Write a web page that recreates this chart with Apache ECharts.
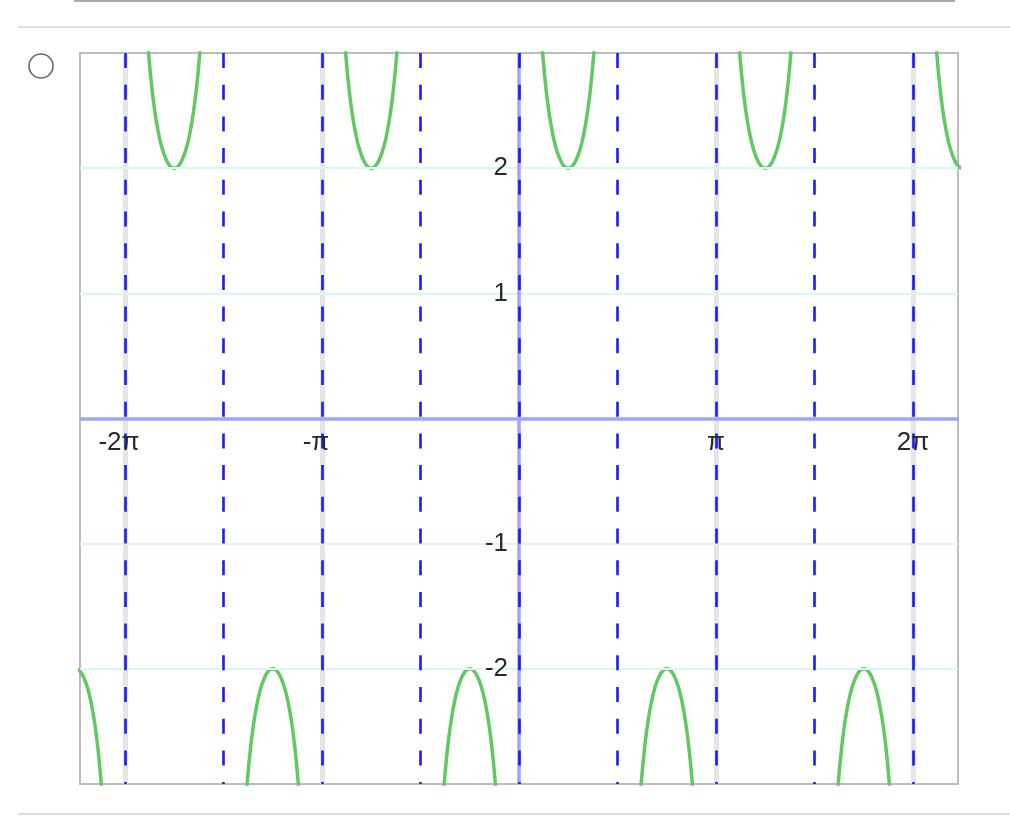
<!DOCTYPE html>
<html>
<head>
<meta charset="utf-8">
<script src="https://cdn.jsdelivr.net/npm/echarts@6/dist/echarts.min.js"></script>
<style>
  html, body { margin: 0; padding: 0; background: #fff; }
  #chart { width: 1010px; height: 830px; }
</style>
</head>
<body>
<div id="chart"></div>
<script>
// ---- data (y = 2·csc(2x)) ----
const xRange = [-7, 7];
const yRange = [-2.92, 2.92];
const xTickValues = [-6.2832, -3.1416, 3.1416, 6.2832];
const xTickLabels = ['-2π', '-π', 'π', '2π'];
const yTickValues = [-2, -1, 1, 2];
const yTickLabels = ['-2', '-1', '1', '2'];
const asymptoteX = [-6.2832, -4.7124, -3.1416, -1.5708, 0, 1.5708, 3.1416, 4.7124, 6.2832];
const gridX = [-6.2832, -3.1416, 3.1416, 6.2832];
const gridY = [-2, -1, 1, 2];

const branch0 = [[-7.169,-2.041],[-7.069,-2],[-6.969,-2.041],[-6.869,-2.171],[-6.789,-2.361],[-6.719,-2.615],[-6.659,-2.932],[-6.599,-3.392]];
const branch1 = [[-5.968,3.392],[-5.908,2.932],[-5.848,2.615],[-5.778,2.361],[-5.698,2.171],[-5.598,2.041],[-5.498,2],[-5.398,2.041],[-5.298,2.171],[-5.218,2.361],[-5.148,2.615],[-5.088,2.932],[-5.028,3.392]];
const branch2 = [[-4.397,-3.392],[-4.337,-2.932],[-4.277,-2.615],[-4.207,-2.361],[-4.127,-2.171],[-4.027,-2.041],[-3.927,-2],[-3.827,-2.041],[-3.727,-2.171],[-3.647,-2.361],[-3.577,-2.615],[-3.517,-2.932],[-3.457,-3.392]];
const branch3 = [[-2.826,3.392],[-2.766,2.932],[-2.706,2.615],[-2.636,2.361],[-2.556,2.171],[-2.456,2.041],[-2.356,2],[-2.256,2.041],[-2.156,2.171],[-2.076,2.361],[-2.006,2.615],[-1.946,2.932],[-1.886,3.392]];
const branch4 = [[-1.255,-3.392],[-1.195,-2.932],[-1.135,-2.615],[-1.065,-2.361],[-0.985,-2.171],[-0.885,-2.041],[-0.785,-2],[-0.685,-2.041],[-0.585,-2.171],[-0.505,-2.361],[-0.435,-2.615],[-0.375,-2.932],[-0.315,-3.392]];
const branch5 = [[0.315,3.392],[0.375,2.932],[0.435,2.615],[0.505,2.361],[0.585,2.171],[0.685,2.041],[0.785,2],[0.885,2.041],[0.985,2.171],[1.065,2.361],[1.135,2.615],[1.195,2.932],[1.255,3.392]];
const branch6 = [[1.886,-3.392],[1.946,-2.932],[2.006,-2.615],[2.076,-2.361],[2.156,-2.171],[2.256,-2.041],[2.356,-2],[2.456,-2.041],[2.556,-2.171],[2.636,-2.361],[2.706,-2.615],[2.766,-2.932],[2.826,-3.392]];
const branch7 = [[3.457,3.392],[3.517,2.932],[3.577,2.615],[3.647,2.361],[3.727,2.171],[3.827,2.041],[3.927,2],[4.027,2.041],[4.127,2.171],[4.207,2.361],[4.277,2.615],[4.337,2.932],[4.397,3.392]];
const branch8 = [[5.028,-3.392],[5.088,-2.932],[5.148,-2.615],[5.218,-2.361],[5.298,-2.171],[5.398,-2.041],[5.498,-2],[5.598,-2.041],[5.698,-2.171],[5.778,-2.361],[5.848,-2.615],[5.908,-2.932],[5.968,-3.392]];
const branch9 = [[6.599,3.392],[6.659,2.932],[6.719,2.615],[6.789,2.361],[6.869,2.171],[6.969,2.041],[7.069,2],[7.169,2.041]];
const branches = [branch0, branch1, branch2, branch3, branch4, branch5, branch6, branch7, branch8, branch9];

// ---- layout ----
const GRID = { left: 80, right: 52, top: 53, bottom: 46 };
const W = 1010, H = 830;
const plotW = W - GRID.left - GRID.right;
const plotH = H - GRID.top - GRID.bottom;
// put the axis labels through the origin (both ranges are symmetric)
const xAxisOffset = -plotH * (0 - yRange[0]) / (yRange[1] - yRange[0]);
const yAxisOffset = -plotW * (0 - xRange[0]) / (xRange[1] - xRange[0]);

function labelFor(values, labels, v) {
  for (let i = 0; i < values.length; i++) {
    if (Math.abs(values[i] - v) < 1e-3) return labels[i];
  }
  return '';
}

function curveData() {
  const out = [];
  branches.forEach((b, i) => {
    if (i > 0) out.push([null, null]);
    b.forEach(p => out.push(p));
  });
  return out;
}

const chart = echarts.init(document.getElementById('chart'), null, { renderer: 'canvas' });
const font = '"Liberation Sans", Arial, sans-serif';
const axisBlue = '#a3a3ff';
const labelColor = '#2a2a2a';
const labelSize = 26;

chart.setOption({
  animation: false,
  backgroundColor: '#ffffff',
  grid: {
    left: GRID.left, right: GRID.right, top: GRID.top, bottom: GRID.bottom,
    show: true, borderColor: '#bdbdbd', borderWidth: 2, backgroundColor: 'transparent'
  },
  xAxis: {
    type: 'value', min: xRange[0], max: xRange[1], z: 20,
    position: 'bottom', offset: xAxisOffset,
    axisLine: { show: false, onZero: false },
    axisTick: { show: false },
    splitLine: { show: false },
    axisLabel: {
      customValues: xTickValues,
      formatter: v => {
        const t = labelFor(xTickValues, xTickLabels, v);
        return t.charAt(0) === '-' ? '{neg|' + t + '}' : '{pos|' + t + '}';
      },
      color: labelColor, fontSize: labelSize, fontFamily: font, margin: 11,
      rich: {
        neg: { color: labelColor, fontSize: labelSize, fontFamily: font, padding: [0, 12, 0, 0] },
        pos: { color: labelColor, fontSize: labelSize, fontFamily: font }
      }
    }
  },
  yAxis: {
    type: 'value', min: yRange[0], max: yRange[1], z: 20,
    position: 'left', offset: yAxisOffset,
    axisLine: { show: false, onZero: false },
    axisTick: { show: false },
    splitLine: { show: false },
    axisLabel: {
      customValues: yTickValues,
      formatter: v => labelFor(yTickValues, yTickLabels, v),
      color: labelColor, fontSize: labelSize, fontFamily: font, margin: 11
    }
  },
  graphic: [
    { type: 'line', silent: true, shape: { x1: 74, y1: 1, x2: 955, y2: 1 }, style: { stroke: '#aaaaaa', lineWidth: 2 } },
    { type: 'line', silent: true, shape: { x1: 18, y1: 27, x2: 1010, y2: 27 }, style: { stroke: '#dddddd', lineWidth: 2 } },
    { type: 'circle', silent: true, shape: { cx: 41, cy: 66, r: 12 }, style: { fill: '#fff', stroke: '#666', lineWidth: 1.6 } },
    { type: 'line', silent: true, shape: { x1: 18, y1: 814, x2: 1010, y2: 814 }, style: { stroke: '#dddddd', lineWidth: 2 } }
  ],
  series: [
    {
      name: 'grid', type: 'line', data: [], z: 1, silent: true,
      markLine: {
        silent: true, symbol: ['none', 'none'], animation: false,
        label: { show: false },
        data: gridX.map(x => [
          { coord: [x, yRange[1]], lineStyle: { color: '#e6e6e6', width: 5, type: 'solid' } },
          { coord: [x, yRange[0]] }
        ]).concat(gridY.map(y => [
          { coord: [xRange[0], y], lineStyle: { color: '#d8f7f7', width: 2, type: 'solid' } },
          { coord: [xRange[1], y] }
        ]))
      }
    },
    {
      name: 'axes', type: 'line', data: [], z: 2, silent: true,
      markLine: {
        silent: true, symbol: ['none', 'none'], animation: false,
        label: { show: false },
        lineStyle: { color: axisBlue, width: 3.5, type: 'solid' },
        data: [
          [{ coord: [xRange[0], 0] }, { coord: [xRange[1], 0] }],
          [{ coord: [0, yRange[1]] }, { coord: [0, yRange[0]] }]
        ]
      }
    },
    {
      name: 'asymptotes', type: 'line', data: [], z: 3, silent: true,
      markLine: {
        silent: true, symbol: ['none', 'none'], animation: false,
        label: { show: false },
        lineStyle: { color: '#1a1aff', width: 2.6, type: [15, 16.7] },
        data: asymptoteX.map(x => [
          { coord: [x, yRange[1]] },
          { coord: [x, yRange[0]] }
        ])
      }
    },
    {
      name: 'y = 2csc(2x)', type: 'line', data: curveData(), z: 4,
      showSymbol: false, connectNulls: false, clip: true,
      smooth: 0.35,
      lineStyle: { color: '#62c962', width: 3.5 }
    }
  ]
});
</script>
</body>
</html>
